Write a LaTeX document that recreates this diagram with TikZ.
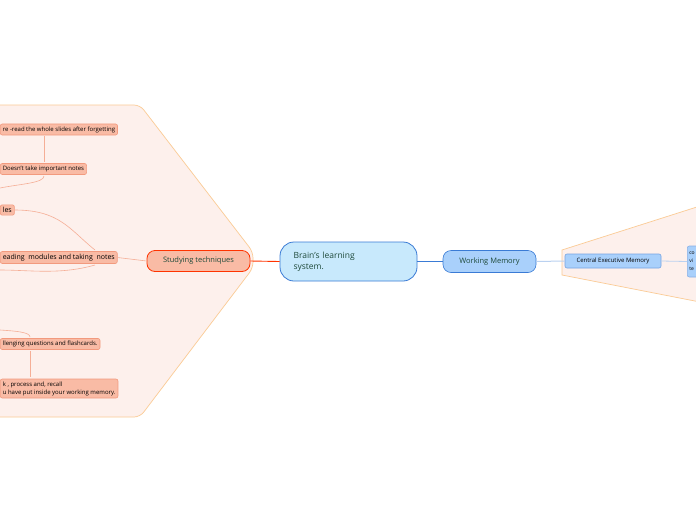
\documentclass[tikz,border=0pt]{standalone}
\usepackage{fontspec}
\setmainfont{Open Sans}
\begin{document}
\begin{tikzpicture}[x=1pt,y=-1pt,
 sal/.style={draw=salbd,fill=salf,rounded corners=2pt,inner sep=2.5pt,font=\fontsize{6}{7}\selectfont,anchor=west,line width=0.6pt},
 ln/.style={draw=salln,line width=0.6pt},
 blu/.style={draw=blubd,fill=bluf,rounded corners=2pt,line width=0.6pt}]
\definecolor{salf}{HTML}{F9BBA5}\definecolor{salbd}{HTML}{F29A7E}\definecolor{salln}{HTML}{F5AE96}
\definecolor{hexf}{HTML}{FDF0EC}\definecolor{hexbd}{HTML}{FBCB95}
\definecolor{bluf}{HTML}{A9D0FB}\definecolor{blubd}{HTML}{3A7BD5}
\definecolor{txtg}{HTML}{1E4A3A}
\useasboundingbox (0,0) rectangle (696,520);
\fill[white] (0,0) rectangle (696,520);
\draw[hexbd,fill=hexf,line width=0.7pt,rounded corners=6pt] (-5,105) -- (140,105) -- (253,252) -- (253,268) -- (140,417) -- (-5,417);
\draw[hexbd,fill=hexf,line width=0.7pt] (700,206) -- (562,250) -- (562,275) -- (700,302);
\coordinate (e1) at (0,188); \coordinate (e2) at (0,270); \coordinate (e3) at (0,330);
\node[sal] (s1) at (0,129.5) {re -read the whole slides after forgetting};
\node[sal] (s2) at (0,169) {Doesn't take important notes};
\node[sal,font=\fontsize{7}{8}\selectfont] (s3) at (0,210) {les};
\node[sal,font=\fontsize{7}{8}\selectfont] (s4) at (0,257.5) {eading\ \ modules and taking\ \ notes};
\node[sal] (s5) at (0,344) {llenging questions and flashcards.};
\node[sal,align=left,font=\fontsize{6}{8}\selectfont] (s6) at (0,388.5) {k , process and, recall\\u have put inside your working memory.};
\node[fill=salf,draw=red!60!orange,rounded corners=8pt,minimum width=103pt,minimum height=21pt,font=\fontsize{7.5}{8}\selectfont,text=txtg,line width=0.8pt] (st) at (198.5,261) {Studying techniques};
\node[draw=blubd,fill={rgb,255:red,200;green,233;blue,252},rounded corners=14pt,minimum width=137pt,minimum height=39pt,align=left,font=\fontsize{8.5}{11}\selectfont,text=txtg,text width=110pt,line width=0.8pt] (br) at (348.5,261.5) {Brain's learning\\system.};
\node[blu,rounded corners=8pt,minimum width=93pt,minimum height=22pt,font=\fontsize{7.5}{8}\selectfont,text=txtg] (wm) at (489.5,261.5) {Working Memory};
\node[blu,draw=blubd!70,minimum width=96pt,minimum height=14pt,font=\fontsize{6}{7}\selectfont] (ce) at (613,261) {Central Executive Memory};
\node[blu,draw=blubd!60,anchor=west,minimum height=31pt,text width=12pt,align=left,inner sep=2pt,font=\fontsize{5}{8}\selectfont] (pb) at (687,261.5) {co\\vi\\te};
\draw[ln] (44,136) -- (44,162);
\draw[ln] (44,176) .. controls (44,183) and (20,184) .. (e1);
\draw[ln] (s3.east) .. controls (60,210) and (70,230) .. (95,250);
\draw[ln] (95,265) .. controls (60,275) and (30,270) .. (e2);
\draw[ln] (30,337) .. controls (30,332) and (15,331) .. (e3);
\draw[ln] (30,351) -- (30,377);
\draw[ln] (s4.east) -- (st.west);
\draw[red!60!orange,line width=0.9pt] (st.east) -- (br.west);
\draw[blubd,line width=1.2pt] (br.east) -- (wm.west);
\draw[blubd!35,line width=1pt] (wm.east) -- (ce.west);
\draw[blubd!35,line width=0.8pt] (ce.east) -- (pb.west);
\end{tikzpicture}
\end{document}
